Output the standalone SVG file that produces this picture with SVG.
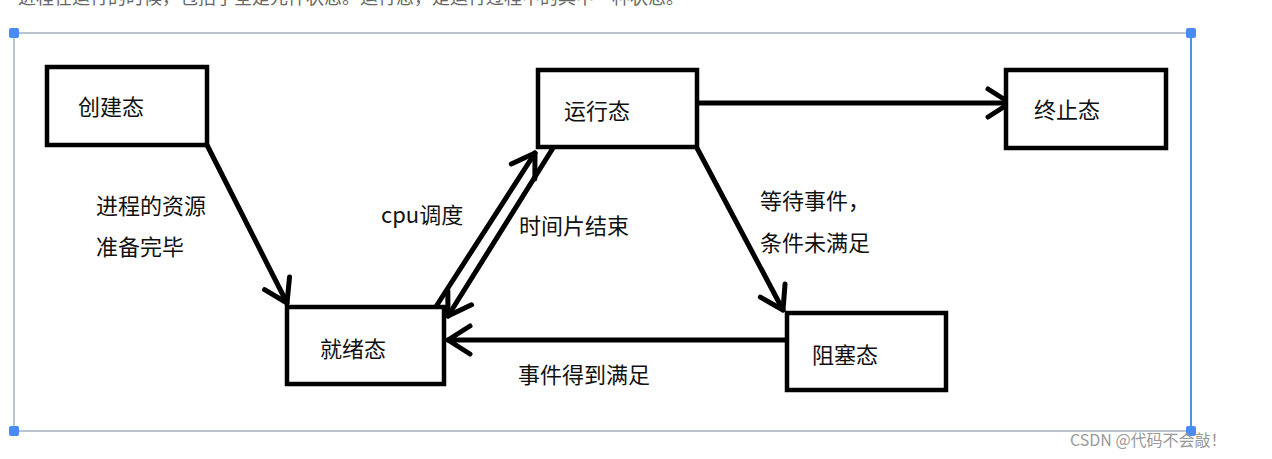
<svg xmlns="http://www.w3.org/2000/svg" width="1272" height="459" viewBox="0 0 1272 459">
<style>
.box{fill:#fff;stroke:#000;stroke-width:4.5}
.t{font-family:"Noto Sans CJK SC","Liberation Sans",sans-serif;font-size:22px;fill:#111}
.c{fill:none;stroke:#000;stroke-width:5;stroke-linecap:round}
.h{fill:#4a8af4}
</style>
<defs>
<marker id="a" markerUnits="userSpaceOnUse" markerWidth="40" markerHeight="40" refX="30" refY="20" orient="auto" viewBox="0 0 40 40">
<path d="M8,6 L30,20 L8,34" fill="none" stroke="#000" stroke-width="5" stroke-linecap="round" stroke-linejoin="round"/>
</marker>
</defs>
<rect width="1272" height="459" fill="#fff"/>
<text x="18" y="4" font-family="Noto Sans CJK SC,sans-serif" font-size="18" fill="#666">进程在运行的时候，包括了全是元件状态。运行态，是运行过程中的其中一种状态。</text>
<rect x="14" y="33" width="1177" height="398" fill="none" stroke="#7a8aa0" stroke-width="1"/>
<line x1="1191" y1="33" x2="1191" y2="431" stroke="#3a7be0" stroke-width="1.5"/>
<rect class="h" x="9" y="28" width="10" height="10" rx="2"/>
<rect class="h" x="1186" y="28" width="10" height="10" rx="2"/>
<rect class="h" x="9" y="426" width="10" height="10" rx="2"/>
<rect class="h" x="1186" y="426" width="10" height="10" rx="2"/>
<g id="connectors">
<line class="c" x1="207" y1="145" x2="287" y2="303" marker-end="url(#a)"/>
<line class="c" x1="437" y1="305" x2="535" y2="153" marker-end="url(#a)"/>
<line class="c" x1="553" y1="148" x2="448" y2="316" marker-end="url(#a)"/>
<line class="c" x1="697" y1="103" x2="1010" y2="103" marker-end="url(#a)"/>
<line class="c" x1="697" y1="148" x2="783" y2="310" marker-end="url(#a)"/>
<line class="c" x1="787" y1="340" x2="448" y2="340" marker-end="url(#a)"/>
</g>
<g id="n1"><rect class="box" x="47" y="67" width="160" height="78"/><text class="t" x="78" y="115">创建态</text></g>
<g id="n2"><rect class="box" x="538" y="70" width="159" height="77"/><text class="t" x="564" y="119">运行态</text></g>
<g id="n3"><rect class="box" x="1006" y="70" width="160" height="78"/><text class="t" x="1034" y="118">终止态</text></g>
<g id="n4"><rect class="box" x="287" y="307" width="157" height="77"/><text class="t" x="320" y="357">就绪态</text></g>
<g id="n5"><rect class="box" x="787" y="313" width="159" height="77"/><text class="t" x="812" y="363">阻塞态</text></g>
<g id="labels">
<text class="t" x="96" y="214">进程的资源</text>
<text class="t" x="96" y="255">准备完毕</text>
<text class="t" x="381" y="223">cpu调度</text>
<text class="t" x="519" y="234">时间片结束</text>
<text class="t" x="760" y="209">等待事件，</text>
<text class="t" x="760" y="251">条件未满足</text>
<text class="t" x="518" y="383">事件得到满足</text>
</g>
<text x="1070" y="446" font-family="Noto Sans CJK SC,sans-serif" font-size="16" fill="#999">CSDN @代码不会敲！</text>
</svg>
